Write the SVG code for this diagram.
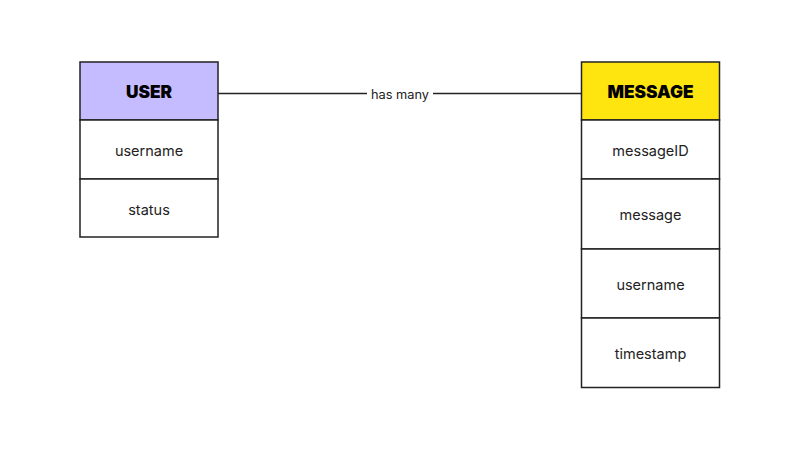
<svg xmlns="http://www.w3.org/2000/svg" width="800" height="450" viewBox="0 0 800 450">
<style>
.box{fill:#fff;stroke:#222;stroke-width:1.5}
.h{font-family:Inter,"Noto Sans",sans-serif;font-weight:900;font-size:17.3px;fill:#000;text-anchor:middle;dominant-baseline:central}
.t{font-family:Inter,"Noto Sans",sans-serif;font-size:14.5px;fill:#222;text-anchor:middle;dominant-baseline:central}
.l{font-family:Inter,"Noto Sans",sans-serif;font-size:12.8px;fill:#222;text-anchor:middle;dominant-baseline:central}
.ln{stroke:#222;stroke-width:1.5;fill:none}
</style>
<rect width="800" height="450" fill="#fff"/>
<g id="connectors">
<line class="ln" x1="218" y1="93.5" x2="367" y2="93.5"/>
<line class="ln" x1="433" y1="93.5" x2="581" y2="93.5"/>
<text class="l" x="400" y="94">has many</text>
</g>
<g id="user">
<rect class="box" x="80" y="62" width="138" height="58" style="fill:#c5bcff"/>
<rect class="box" x="80" y="120" width="138" height="59"/>
<rect class="box" x="80" y="179" width="138" height="58"/>
<text class="h" x="149" y="91.5">USER</text>
<text class="t" x="149" y="150">username</text>
<text class="t" x="149" y="209">status</text>
</g>
<g id="message">
<rect class="box" x="581.5" y="62" width="138" height="58" style="fill:#ffe510"/>
<rect class="box" x="581.5" y="120" width="138" height="59"/>
<rect class="box" x="581.5" y="179" width="138" height="70"/>
<rect class="box" x="581.5" y="249" width="138" height="69"/>
<rect class="box" x="581.5" y="318" width="138" height="69.5"/>
<text class="h" x="650.5" y="91.5">MESSAGE</text>
<text class="t" x="650.5" y="150">messageID</text>
<text class="t" x="650.5" y="214.5">message</text>
<text class="t" x="650.5" y="284">username</text>
<text class="t" x="650.5" y="353">timestamp</text>
</g>
</svg>
